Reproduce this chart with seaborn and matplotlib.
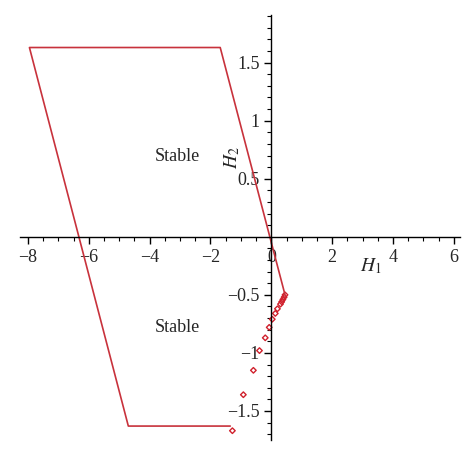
import matplotlib
matplotlib.use("Agg")
import matplotlib.pyplot as plt
import seaborn as sns
import pandas as pd
from matplotlib.ticker import MultipleLocator

sns.set_theme(style="white")
plt.rcParams['font.family'] = ['Liberation Serif', 'DejaVu Serif']
plt.rcParams['mathtext.fontset'] = 'stix'

# boundary of the stable region
edge_h1 = [0.45, -1.68, -7.95, -4.7, -1.35]
edge_h2 = [-0.5, 1.63, 1.63, -1.63, -1.63]

# diamond points
pts_h1 = [0.45, 0.42, 0.38, 0.34, 0.3, 0.2, 0.13, 0.03, -0.07, -0.2, -0.39, -0.59, -0.92, -1.28]
pts_h2 = [-0.5, -0.52, -0.54, -0.56, -0.58, -0.62, -0.66, -0.71, -0.78, -0.87, -0.98, -1.15, -1.36, -1.67]

edge = pd.DataFrame({'H1': edge_h1, 'H2': edge_h2})
pts = pd.DataFrame({'H1': pts_h1, 'H2': pts_h2})

fig = plt.figure(figsize=(4.74, 4.74), dpi=100)
ax = fig.add_axes([20/474, 34/474, 440/474, 425/474])
sns.lineplot(data=edge, x='H1', y='H2', sort=False, color='#c8323c', lw=1.2, ax=ax)
sns.scatterplot(data=pts, x='H1', y='H2', marker='D', s=8, facecolor='none',
                edgecolor='#d0202c', linewidth=1.0, ax=ax)

ax.set_xlim(-8.26, 6.2)
ax.set_ylim(-1.75, 1.91)
for s in ['top', 'right']:
    ax.spines[s].set_visible(False)
ax.spines['left'].set_position(('data', 0))
ax.spines['bottom'].set_position(('data', 0))
for s in ['left', 'bottom']:
    ax.spines[s].set_color('black')
    ax.spines[s].set_linewidth(1.0)
ax.set_xticks([-8, -6, -4, -2, 0, 2, 4, 6])
ax.set_xticklabels(['−8', '−6', '−4', '−2', '0', '2', '4', '6'])
ax.set_yticks([-1.5, -1, -0.5, 0.5, 1, 1.5])
ax.set_yticklabels(['−1.5', '−1', '−0.5', '0.5', '1', '1.5'])
ax.xaxis.set_minor_locator(MultipleLocator(0.5))
ax.yaxis.set_minor_locator(MultipleLocator(0.1))
ax.tick_params(axis='both', which='major', length=5, width=1, direction='out',
               labelsize=13, color='black', bottom=True, left=True)
ax.tick_params(axis='both', which='minor', length=3, width=0.8, direction='out',
               color='black', bottom=True, left=True)
ax.set_xlabel('')
ax.set_ylabel('')
ax.text(2.9, -0.3, '$H_1$', fontsize=14)
ax.text(-1.6, 0.62, '$H_2$', fontsize=14, rotation=90)
ax.text(-3.1, 0.69, 'Stable', fontsize=13, ha='center', va='center')
ax.text(-3.1, -0.78, 'Stable', fontsize=13, ha='center', va='center')

fig.savefig('out.png', dpi=100)
